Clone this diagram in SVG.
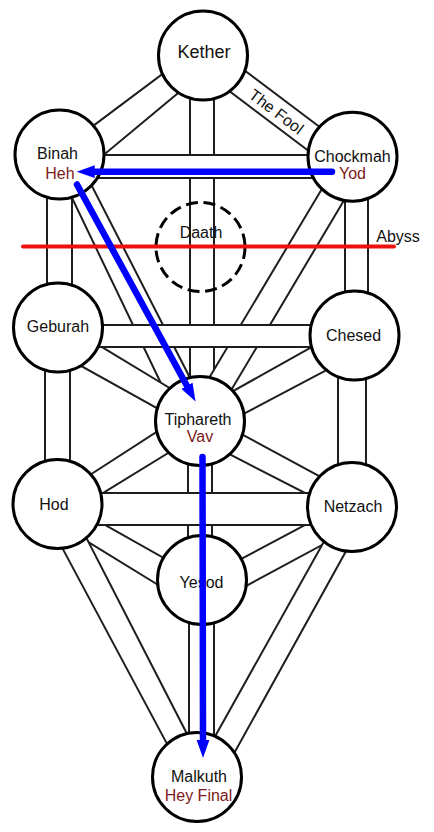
<svg xmlns="http://www.w3.org/2000/svg" width="434" height="832" viewBox="0 0 434 832">
<style>
.bar{fill:#fff;stroke:#1e1e1e;stroke-width:2;stroke-linejoin:miter}
.node{fill:#fff;stroke:#000;stroke-width:3}
.lbl{font-family:"Liberation Sans",Arial,sans-serif;font-size:16px;fill:#111;text-anchor:middle}
.heb{font-family:"Liberation Sans",Arial,sans-serif;font-size:16px;fill:#7d1a1a;text-anchor:middle}
.flow{fill:none;stroke:#0000ff;stroke-width:6.5;stroke-linecap:round}
</style>
<defs>
<marker id="head" markerUnits="userSpaceOnUse" orient="auto" markerWidth="20" markerHeight="14" refX="0" refY="7" viewBox="0 0 20 14">
<path d="M0,0.6 L18,7 L0,13.4 z" fill="#0000ff"/>
</marker>
</defs>
<rect width="434" height="832" fill="#fff"/>
<g id="connectors">
<polygon class="bar" points="85.8,131.4 172.2,66.6 186.2,86.3 96.8,160.7"/>
<polygon class="bar" points="240,67 325,131 314,155 224,87"/>
<polygon class="bar" points="190,90 214,90 214,385 190,385"/>
<polygon class="bar" points="345,190 368,190 368,300 345,300"/>
<polygon class="bar" points="47,190 72,190 72,292 47,292"/>
<polygon class="bar" points="65.8,185 86.3,175 196.2,390 169,400"/>
<polygon class="bar" points="327.2,180 353.1,185 225.3,400 201.9,390"/>
<polygon class="bar" points="91.7,340.8 178.3,393.2 165.5,412.8 72.5,361.2"/>
<polygon class="bar" points="320.5,342.1 224.5,395.9 236.4,417.6 333.6,366.4"/>
<polygon class="bar" points="45,360 70,360 70,470 45,470"/>
<polygon class="bar" points="338,370 366,370 366,472 338,472"/>
<polygon class="bar" points="82.9,479.5 165.1,426.5 178.3,446.8 94.7,498.2"/>
<polygon class="bar" points="234.5,430.3 327.5,480.7 315.7,498.5 220.3,449.5"/>
<polygon class="bar" points="188,455 212,455 212,545 188,545"/>
<polygon class="bar" points="96.5,520.1 172.5,562.9 165.2,589.3 77.8,535.7"/>
<polygon class="bar" points="315.6,519.4 232.4,563.6 237.4,590.7 332.6,539.3"/>
<polygon class="bar" points="59.3,542.4 171.7,752.6 190.5,740.7 82.5,530.3"/>
<polygon class="bar" points="327.9,534.5 211.1,743.5 231.2,758.5 350.8,542.5"/>
<polygon class="bar" points="189,615 214,615 214,745 189,745"/>
<polygon class="bar" points="92,155 318,155 318,178 92,178"/>
<polygon class="bar" points="92,325 318,325 318,347 92,347"/>
<polygon class="bar" points="90,493 320,493 320,525 90,525"/>
<text class="lbl" fill="#222" transform="translate(276.5,111.5) rotate(37)" x="0" y="5.7">The Fool</text>
</g>
<g id="kether"><circle class="node" cx="203" cy="55.5" r="44.5"/><text class="lbl" x="204" y="58.3" style="font-size:18px">Kether</text></g>
<g id="binah"><circle class="node" cx="59.5" cy="154.5" r="44.5"/><text class="lbl" x="57.5" y="159">Binah</text><text class="heb" x="60" y="179">Heh</text></g>
<g id="chockmah"><circle class="node" cx="352.5" cy="156.7" r="44.5"/><text class="lbl" x="352.5" y="161.7">Chockmah</text><text class="heb" x="352.5" y="179">Yod</text></g>
<g id="geburah"><circle class="node" cx="58" cy="327.5" r="44.5"/><text class="lbl" x="58" y="331.7">Geburah</text></g>
<g id="chesed"><circle class="node" cx="354.5" cy="335.5" r="44.5"/><text class="lbl" x="353.5" y="340.7">Chesed</text></g>
<g id="tiphareth"><circle class="node" cx="200" cy="421" r="44.5"/><text class="lbl" x="198" y="425">Tiphareth</text><text class="heb" x="200" y="441.7">Vav</text></g>
<g id="hod"><circle class="node" cx="57.5" cy="504" r="44.5"/><text class="lbl" x="54" y="510">Hod</text></g>
<g id="netzach"><circle class="node" cx="352" cy="507" r="44.5"/><text class="lbl" x="353" y="511.5">Netzach</text></g>
<g id="yesod"><circle class="node" cx="202" cy="580" r="44.5"/><text class="lbl" x="201.5" y="588">Yesod</text></g>
<g id="malkuth"><circle class="node" cx="197" cy="777" r="44.5"/><text class="lbl" x="199" y="781.7">Malkuth</text><text class="heb" x="198.5" y="800.7">Hey Final</text></g>
<g id="daath"><circle cx="200.5" cy="247" r="44.5" fill="none" stroke="#000" stroke-width="3" stroke-dasharray="12 5.7"/><text class="lbl" x="201" y="238.3">Daath</text></g>
<g id="abyss"><line x1="23" y1="246.5" x2="394" y2="246.5" stroke="#ee1111" stroke-width="4" stroke-linecap="round"/><text class="lbl" x="398" y="241.7">Abyss</text></g>
<g id="flow-arrows">
<line class="flow" x1="332" y1="171.7" x2="94.7" y2="171.7" marker-end="url(#head)"/>
<line class="flow" x1="77" y1="184.5" x2="186.9" y2="385.7" marker-end="url(#head)"/>
<line class="flow" x1="202.5" y1="457" x2="203" y2="740" marker-end="url(#head)"/>
</g>
</svg>
